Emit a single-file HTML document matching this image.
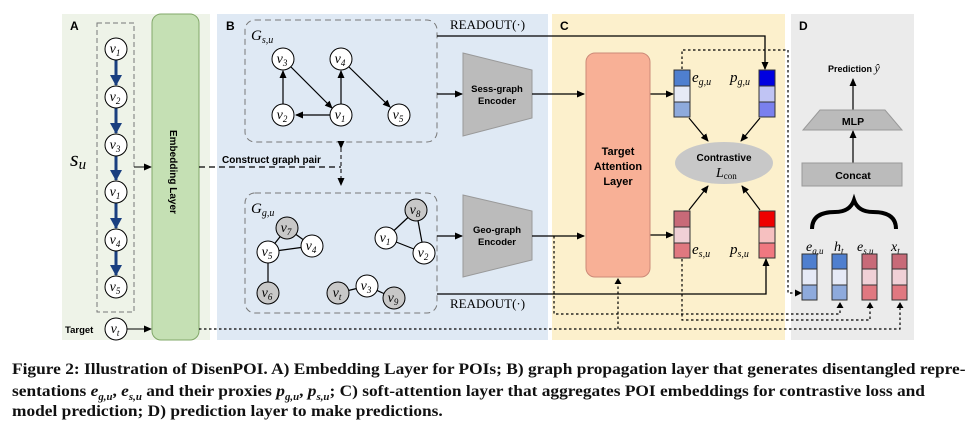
<!DOCTYPE html>
<html><head><meta charset="utf-8"><style>
body{margin:0;background:#fff;width:978px;height:433px;overflow:hidden}
svg{display:block}
.sf{font-family:"Liberation Sans",sans-serif;font-weight:bold}
.m{font-family:"Liberation Serif",serif;font-style:italic}
.cap{position:absolute;left:12px;font-family:"Liberation Serif",serif;font-size:16px;font-weight:bold;color:#111;white-space:nowrap;transform-origin:0 0}
</style></head><body>
<svg width="978" height="345" viewBox="0 0 978 345" xmlns="http://www.w3.org/2000/svg">
<defs>
<marker id="a" markerWidth="8" markerHeight="8" refX="7" refY="4" orient="auto" markerUnits="userSpaceOnUse"><path d="M0,0.5 L8,4 L0,7.5z" fill="#000"/></marker>
<marker id="b" markerWidth="12" markerHeight="12" refX="10" refY="6" orient="auto" markerUnits="userSpaceOnUse"><path d="M0,0 L11,6 L0,12z" fill="#1a3f80"/></marker>
</defs>
<rect x="62" y="14" width="148" height="326" fill="#eef3e8"/>
<rect x="217" y="14" width="331" height="326" fill="#dfe9f4"/>
<rect x="552" y="14" width="233" height="326" fill="#fcf0cc"/>
<rect x="791" y="14" width="123" height="326" fill="#ebebeb"/>
<g class="sf" font-size="12"><text x="70" y="30">A</text><text x="226" y="30">B</text><text x="560" y="30">C</text><text x="799" y="30">D</text></g>
<!-- A -->
<rect x="97" y="23" width="37" height="289" fill="none" stroke="#777" stroke-dasharray="5,3"/>
<g stroke="#1a3f80" stroke-width="3" marker-end="url(#b)"><line x1="116" y1="60" x2="116" y2="85"/><line x1="116" y1="108" x2="116" y2="133"/><line x1="116" y1="156" x2="116" y2="180"/><line x1="116" y1="203" x2="116" y2="228"/><line x1="116" y1="251" x2="116" y2="275"/></g>
<g fill="#fff" stroke="#000" stroke-width="1"><circle cx="116" cy="49" r="11"/><circle cx="116" cy="97" r="11"/><circle cx="116" cy="145" r="11"/><circle cx="116" cy="192" r="11"/><circle cx="116" cy="240" r="11"/><circle cx="116" cy="287" r="11"/><circle cx="116" cy="329" r="11"/></g>
<g class="m" font-size="14" text-anchor="middle"><text x="115" y="53">v<tspan font-size="9" dy="3">1</tspan></text><text x="115" y="101">v<tspan font-size="9" dy="3">2</tspan></text><text x="115" y="149">v<tspan font-size="9" dy="3">3</tspan></text><text x="115" y="196">v<tspan font-size="9" dy="3">1</tspan></text><text x="115" y="244">v<tspan font-size="9" dy="3">4</tspan></text><text x="115" y="291">v<tspan font-size="9" dy="3">5</tspan></text><text x="115" y="333">v<tspan font-size="9" dy="3">t</tspan></text></g>
<text x="70" y="166" class="m" font-size="22">s<tspan font-size="15" dy="3">u</tspan></text>
<text x="65" y="333" class="sf" font-size="9.5">Target</text>
<line x1="134" y1="167" x2="151" y2="167" stroke="#000" marker-end="url(#a)"/>
<line x1="127" y1="329" x2="151" y2="329" stroke="#000" marker-end="url(#a)"/>
<rect x="152" y="14" width="47" height="326" rx="9" fill="#c5e0b4" stroke="#82a86a"/>
<text transform="translate(170,130) rotate(90)" class="sf" font-size="10">Embedding Layer</text>
<!-- B -->
<rect x="245" y="20" width="192" height="122" rx="10" fill="none" stroke="#777" stroke-dasharray="6,4"/>
<rect x="245" y="193" width="192" height="120" rx="10" fill="none" stroke="#777" stroke-dasharray="6,4"/>
<text x="251" y="40" class="m" font-size="15">G<tspan font-size="10" dy="3">s,u</tspan></text>
<text x="251" y="213" class="m" font-size="15">G<tspan font-size="10" dy="3">g,u</tspan></text>
<line x1="199" y1="167" x2="341" y2="167" stroke="#000" stroke-dasharray="6,4" stroke-width="1.3"/>
<line x1="341" y1="148" x2="341" y2="185" stroke="#000" stroke-dasharray="4,3" marker-end="url(#a)" marker-start="url(#a)"/>
<text x="222" y="163" class="sf" font-size="10">Construct graph pair</text>
<g stroke="#000" stroke-width="1.2" marker-end="url(#a)"><line x1="283" y1="104" x2="283" y2="71"/><line x1="291" y1="67" x2="332" y2="108"/><line x1="330" y1="115" x2="296" y2="115"/><line x1="341" y1="104" x2="341" y2="71"/><line x1="349" y1="67" x2="390" y2="107"/></g>
<g stroke="#000" stroke-width="1.2"><line x1="268" y1="252" x2="287" y2="228"/><line x1="268" y1="252" x2="312" y2="246"/><line x1="287" y1="228" x2="312" y2="246"/><line x1="268" y1="252" x2="268" y2="293"/><line x1="386" y1="238" x2="416" y2="210"/><line x1="386" y1="238" x2="424" y2="253"/><line x1="416" y1="210" x2="424" y2="253"/><line x1="338" y1="293" x2="367" y2="286"/><line x1="367" y1="286" x2="394" y2="298"/></g>
<g stroke="#000"><circle cx="283" cy="59" r="11" fill="#fff"/><circle cx="341" cy="59" r="11" fill="#fff"/><circle cx="283" cy="115" r="11" fill="#fff"/><circle cx="341" cy="115" r="11" fill="#fff"/><circle cx="399" cy="115" r="11" fill="#fff"/>
<circle cx="287" cy="228" r="11" fill="#c8c8c8"/><circle cx="312" cy="246" r="11" fill="#fff"/><circle cx="268" cy="252" r="11" fill="#fff"/><circle cx="268" cy="293" r="11" fill="#c8c8c8"/><circle cx="416" cy="210" r="11" fill="#c8c8c8"/><circle cx="386" cy="238" r="11" fill="#fff"/><circle cx="424" cy="253" r="11" fill="#fff"/><circle cx="338" cy="293" r="11" fill="#c8c8c8"/><circle cx="367" cy="286" r="11" fill="#fff"/><circle cx="394" cy="298" r="11" fill="#c8c8c8"/></g>
<g class="m" font-size="14" text-anchor="middle">
<text x="282" y="63">v<tspan font-size="9" dy="3">3</tspan></text><text x="340" y="63">v<tspan font-size="9" dy="3">4</tspan></text><text x="282" y="119">v<tspan font-size="9" dy="3">2</tspan></text><text x="340" y="119">v<tspan font-size="9" dy="3">1</tspan></text><text x="398" y="119">v<tspan font-size="9" dy="3">5</tspan></text>
<text x="286" y="232">v<tspan font-size="9" dy="3">7</tspan></text><text x="311" y="250">v<tspan font-size="9" dy="3">4</tspan></text><text x="267" y="256">v<tspan font-size="9" dy="3">5</tspan></text><text x="267" y="297">v<tspan font-size="9" dy="3">6</tspan></text><text x="415" y="214">v<tspan font-size="9" dy="3">8</tspan></text><text x="385" y="242">v<tspan font-size="9" dy="3">1</tspan></text><text x="423" y="257">v<tspan font-size="9" dy="3">2</tspan></text><text x="337" y="297">v<tspan font-size="9" dy="3">t</tspan></text><text x="366" y="290">v<tspan font-size="9" dy="3">3</tspan></text><text x="393" y="302">v<tspan font-size="9" dy="3">9</tspan></text></g>
<g font-family="Liberation Serif,serif" font-size="13"><text x="450" y="29">READOUT(·)</text><text x="450" y="308">READOUT(·)</text></g>
<polyline points="437,36 765,36 765,69" fill="none" stroke="#000" stroke-width="1.3" marker-end="url(#a)"/>
<polyline points="437,294 766,294 766,259" fill="none" stroke="#000" stroke-width="1.3" marker-end="url(#a)"/>
<polygon points="463,53 532,70 532,118 463,136" fill="#bbb" stroke="#999"/>
<polygon points="463,195 532,211 532,260 463,277" fill="#bbb" stroke="#999"/>
<g class="sf" font-size="9.5" text-anchor="middle"><text x="497" y="92">Sess-graph</text><text x="497" y="104">Encoder</text><text x="497" y="233">Geo-graph</text><text x="497" y="245">Encoder</text></g>
<g stroke="#000" stroke-width="1.2" marker-end="url(#a)"><line x1="437" y1="94" x2="462" y2="94"/><line x1="437" y1="236" x2="462" y2="236"/><line x1="532" y1="94" x2="584" y2="94"/><line x1="532" y1="236" x2="584" y2="236"/><line x1="650" y1="94" x2="673" y2="94"/><line x1="650" y1="235" x2="673" y2="235"/></g>
<!-- C -->
<rect x="586" y="53" width="64" height="224" rx="9" fill="#f8b096" stroke="#cc8a78"/>
<g class="sf" font-size="11" text-anchor="middle"><text x="618" y="155">Target</text><text x="618" y="170">Attention</text><text x="618" y="185">Layer</text></g>
<ellipse cx="724" cy="163" rx="49" ry="21" fill="#c8c8c8"/>
<text x="724" y="161" class="sf" font-size="10" text-anchor="middle">Contrastive</text>
<text x="716" y="177" class="m" font-size="14">L<tspan font-style="normal" font-size="9" dy="2">con</tspan></text>
<g stroke="#333" stroke-width="1">
<rect x="674" y="70" width="16" height="16" fill="#4f7fcf"/><rect x="674" y="86" width="16" height="16" fill="#e6eaf6"/><rect x="674" y="102" width="16" height="15" fill="#8eaadc"/>
<rect x="759" y="70" width="16" height="16" fill="#0000e0"/><rect x="759" y="86" width="16" height="16" fill="#c0c4f4"/><rect x="759" y="102" width="16" height="15" fill="#7a80ee"/>
<rect x="674" y="211" width="16" height="16" fill="#c86a78"/><rect x="674" y="227" width="16" height="16" fill="#f0d0d6"/><rect x="674" y="243" width="16" height="15" fill="#e07880"/>
<rect x="759" y="211" width="16" height="16" fill="#ee0000"/><rect x="759" y="227" width="16" height="16" fill="#f6c0c0"/><rect x="759" y="243" width="16" height="15" fill="#f07880"/>
</g>
<g class="m" font-size="15"><text x="692" y="82">e<tspan font-size="10" dy="3">g,u</tspan></text><text x="730" y="82">p<tspan font-size="10" dy="3">g,u</tspan></text><text x="692" y="254">e<tspan font-size="10" dy="3">s,u</tspan></text><text x="730" y="254">p<tspan font-size="10" dy="3">s,u</tspan></text></g>
<g stroke="#000" stroke-width="1.2" marker-end="url(#a)"><line x1="689" y1="118" x2="708" y2="141"/><line x1="760" y1="118" x2="741" y2="141"/><line x1="689" y1="210" x2="708" y2="186"/><line x1="760" y1="210" x2="742" y2="186"/></g>
<g fill="none" stroke="#000" stroke-width="1.2" stroke-dasharray="2.5,2.5">
<polyline points="682,69 682,50 788,50 788,293 798,293"/>
<polyline points="199,329 900,329 900,306"/>
<polyline points="554,236 554,314 840,314 840,306"/>
<polyline points="682,259 682,320 870,320 870,306"/>
<line x1="618" y1="329" x2="618" y2="283"/>
</g>
<g fill="#000"><path d="M802,293 l-7,-3.5 v7z"/><path d="M840,302 l-3.5,6 h7z"/><path d="M870,302 l-3.5,6 h7z"/><path d="M900,302 l-3.5,6 h7z"/><path d="M618,278 l-3.5,6 h7z"/></g>
<!-- D -->
<text x="828" y="72" class="sf" font-size="9">Prediction <tspan class="m" font-weight="normal" font-size="12">ŷ</tspan></text>
<line x1="853" y1="163" x2="853" y2="131" stroke="#000" stroke-width="1.2" marker-end="url(#a)"/>
<line x1="853" y1="110" x2="853" y2="79" stroke="#000" stroke-width="1.2" marker-end="url(#a)"/>
<polygon points="803,130 902,130 885,110 820,110" fill="#bbb" stroke="#999"/>
<text x="853" y="125" class="sf" font-size="10.5" text-anchor="middle">MLP</text>
<rect x="802" y="163" width="100" height="23" fill="#bbb" stroke="#999"/>
<text x="853" y="179" class="sf" font-size="10.5" text-anchor="middle">Concat</text>
<path d="M812,229 Q812,212 835,212 Q850,212 854,200 Q858,212 873,212 Q896,212 896,229" fill="none" stroke="#000" stroke-width="4"/>
<g class="m" font-size="14"><text x="806" y="251">e<tspan font-size="9" dy="3">g,u</tspan></text><text x="834" y="251">h<tspan font-size="9" dy="3">t</tspan></text><text x="857" y="251">e<tspan font-size="9" dy="3">s,u</tspan></text><text x="891" y="251">x<tspan font-size="9" dy="3">t</tspan></text></g>
<g stroke="#333">
<rect x="802" y="254" width="15" height="15" fill="#4f7fcf"/><rect x="802" y="269" width="15" height="16" fill="#e6eaf6"/><rect x="802" y="285" width="15" height="15" fill="#8eaadc"/>
<rect x="832" y="254" width="15" height="15" fill="#4f7fcf"/><rect x="832" y="269" width="15" height="16" fill="#e6eaf6"/><rect x="832" y="285" width="15" height="15" fill="#8eaadc"/>
<rect x="862" y="254" width="15" height="15" fill="#c86a78"/><rect x="862" y="269" width="15" height="16" fill="#f0d0d6"/><rect x="862" y="285" width="15" height="15" fill="#e07880"/>
<rect x="892" y="254" width="15" height="15" fill="#c86a78"/><rect x="892" y="269" width="15" height="16" fill="#f0d0d6"/><rect x="892" y="285" width="15" height="15" fill="#e07880"/>
</g>
</svg>
<div class="cap" style="top:361px;transform:scaleX(1.085)">Figure 2: Illustration of DisenPOI. A) Embedding Layer for POIs; B) graph propagation layer that generates disentangled repre-</div>
<div class="cap" style="top:383px;transform:scaleX(1.085)">sentations <i>e<sub style="font-size:10px">g,u</sub></i>, <i>e<sub style="font-size:10px">s,u</sub></i> and their proxies <i>p<sub style="font-size:10px">g,u</sub></i>, <i>p<sub style="font-size:10px">s,u</sub></i>; C) soft-attention layer that aggregates POI embeddings for contrastive loss and</div>
<div class="cap" style="top:403px;transform:scaleX(1.085)">model prediction; D) prediction layer to make predictions.</div>
</body></html>
